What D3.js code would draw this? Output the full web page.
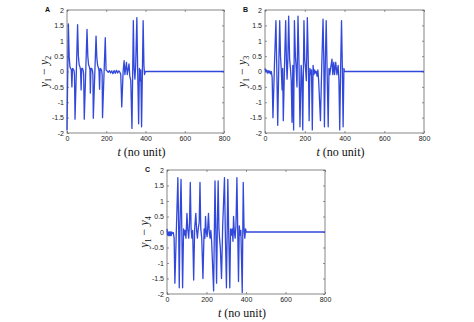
<!DOCTYPE html>
<html><head><meta charset="utf-8">
<script src="https://cdn.jsdelivr.net/npm/d3@7"></script>
<style>body{margin:0;background:#fff}svg{display:block}</style>
</head><body>
<script>
// ---- data ----
const xTicks = [0, 200, 400, 600, 800];
const yTicks = [-2, -1.5, -1, -0.5, 0, 0.5, 1, 1.5, 2];
const panelLetters = ["A", "B", "C"];
const yLabelSubs = ["2", "3", "4"];
const seriesA = [[0,-1.9],[7,1.55],[11,0.5],[15,0.15],[19,0.1],[22,0.05],[25,-0.5],[28,0.1],[32,0.08],[36,0.02],[38,-0.1],[41,-1.55],[54,1.52],[58,0.5],[62,0.22],[66,0.15],[69,0.05],[72,-0.6],[75,0.1],[79,0.1],[83,0.02],[85,-0.1],[88,-1.55],[102,1.37],[106,0.5],[110,0.22],[114,0.15],[117,0.05],[119,-0.7],[122,0.1],[126,0.1],[130,0.02],[132,-0.1],[134,-1.52],[148,1.15],[152,0.45],[156,0.2],[160,0.12],[163,0.03],[166,-0.58],[169,0.1],[173,0.08],[177,0.02],[179,-0.1],[181,-1.5],[195,1.1],[199,0.05],[204,0.02],[210,-0.03],[216,0.03],[222,-0.05],[228,0.02],[234,-0.07],[240,0.03],[246,-0.06],[252,0.04],[258,-0.05],[264,0.02],[270,-0.03],[274,-0.1],[279,-1.15],[286,0.0],[291,0.35],[295,-0.1],[299,0.1],[303,0.3],[307,-0.1],[311,0.05],[316,0.25],[320,-0.15],[325,-0.3],[331,-1.85],[338,1.65],[342,0.1],[346,-0.25],[350,0.2],[356,1.75],[360,0.1],[365,-1.7],[369,0.1],[373,-0.3],[376,0.05],[380,-1.8],[388,1.65],[392,0.2],[395,-0.1],[399,0],[800,0]];
const seriesB = [[0,0.1],[4,0],[8,0.05],[12,-0.05],[16,0.03],[20,-0.05],[24,0.02],[28,-0.08],[32,0],[36,-0.2],[40,-1.5],[48,0.3],[55,1.65],[59,0.2],[64,-1.75],[70,0.4],[74,1.65],[78,0.5],[82,0.05],[86,-0.6],[89,0.1],[92,-1.6],[99,0.4],[104,1.65],[108,0.3],[111,-0.25],[115,0.4],[119,1.8],[124,0.4],[128,0.1],[132,-0.3],[136,-1.65],[140,0.2],[144,-1.9],[148,1.65],[153,0.5],[157,0.1],[161,-0.5],[166,1.8],[171,0.3],[176,-1.8],[182,0.2],[186,-0.2],[190,-1.9],[196,1.65],[200,0.4],[204,0.1],[208,-0.3],[213,1.75],[218,0.3],[222,-1.6],[226,0.1],[230,-0.1],[234,0.05],[238,-1.9],[242,0.2],[246,-0.1],[250,0.05],[254,-0.05],[258,0],[262,-0.15],[266,0.05],[270,-0.3],[279,-1.6],[286,0.3],[292,1.7],[296,0.3],[299,-1.8],[304,0.5],[308,1.65],[312,0.2],[318,-1.8],[322,0.1],[326,-0.1],[330,0.1],[337,0.4],[341,-0.1],[346,0.3],[350,-0.1],[356,0.3],[362,-0.1],[368,0.2],[372,-0.3],[376,-1.9],[381,0.3],[385,1.65],[389,0.2],[393,-1.8],[397,0.1],[400,0],[800,0]];
const seriesC = [[0,0.1],[3,-0.1],[6,0],[9,-0.12],[12,0],[15,-0.12],[18,0],[21,-0.12],[24,0],[28,-0.05],[32,-0.02],[36,-0.2],[40,-1.65],[48,0.2],[55,1.75],[59,0.2],[62,-1.8],[66,0.3],[71,1.7],[75,0.1],[79,-1.8],[84,0.1],[88,-0.1],[92,0.05],[96,-0.2],[101,0.6],[105,0.1],[110,-0.2],[114,0.3],[118,1.6],[122,0.1],[126,-0.2],[130,0.05],[135,-1.55],[140,0.1],[146,0.6],[150,0.05],[154,-0.2],[158,0.1],[163,0.3],[167,1.6],[171,0.1],[176,-0.2],[182,-1.5],[188,0.1],[192,-0.2],[195,0.5],[199,0],[203,-0.15],[206,0.1],[210,0.6],[214,0],[218,-0.2],[222,0.05],[226,-0.3],[236,-1.9],[243,1.65],[247,0.1],[251,-1.65],[255,0.2],[259,1.65],[263,0.1],[266,-0.2],[270,-0.5],[276,-1.5],[282,0.2],[291,1.75],[295,0.1],[301,-1.8],[305,0.2],[308,1.7],[312,0.1],[318,-1.8],[322,0.1],[326,-0.1],[330,0.1],[334,-0.3],[337,0.5],[341,0],[345,-0.2],[349,0.2],[354,1.75],[358,0.1],[362,-1.6],[366,0.2],[370,-0.1],[374,0.05],[381,-1.95],[386,1.6],[390,0.1],[394,-0.2],[398,0.1],[401,0],[800,0]];
const panels = [
  {data: seriesA, letter: panelLetters[0], sub: yLabelSubs[0], left: 67, right: 224, top: 10, bottom: 133},
  {data: seriesB, letter: panelLetters[1], sub: yLabelSubs[1], left: 265, right: 424, top: 10, bottom: 133},
  {data: seriesC, letter: panelLetters[2], sub: yLabelSubs[2], left: 167, right: 325, top: 170, bottom: 294}
];

const svg = d3.select("body").append("svg").attr("width", 474).attr("height", 322);
const lineColor = "#3148da";

panels.forEach(p => {
  const x = d3.scaleLinear().domain([0, 800]).range([p.left, p.right]);
  const y = d3.scaleLinear().domain([-2, 2]).range([p.bottom, p.top]);
  const g = svg.append("g");

  g.append("rect").attr("x", p.left).attr("y", p.top)
    .attr("width", p.right - p.left).attr("height", p.bottom - p.top)
    .attr("fill", "#fff").attr("stroke", "#666").attr("stroke-width", 0.8);

  const ax = g.append("g").attr("transform", `translate(0,${p.bottom})`)
    .call(d3.axisBottom(x).tickValues(xTicks).tickSize(-2).tickPadding(3).tickFormat(d3.format("d")));
  const axTop = g.append("g").attr("transform", `translate(0,${p.top})`)
    .call(d3.axisTop(x).tickValues(xTicks).tickSize(-2).tickFormat(""));
  const ay = g.append("g").attr("transform", `translate(${p.left},0)`)
    .call(d3.axisLeft(y).tickValues(yTicks).tickSize(-2).tickPadding(3).tickFormat(d => String(d)));
  const ayR = g.append("g").attr("transform", `translate(${p.right},0)`)
    .call(d3.axisRight(y).tickValues(yTicks).tickSize(-2).tickFormat(""));
  [ax, axTop, ay, ayR].forEach(a => {
    a.select(".domain").remove();
    a.selectAll(".tick line").attr("stroke", "#666").attr("stroke-width", 0.7);
    a.selectAll(".tick text").attr("font-family", "Liberation Sans, Arial, sans-serif")
      .attr("font-size", 7).attr("fill", "#222");
  });

  g.append("path").datum(p.data)
    .attr("d", d3.line().x(d => x(d[0])).y(d => y(d[1])))
    .attr("fill", "none").attr("stroke", lineColor).attr("stroke-width", 1.3)
    .attr("stroke-linejoin", "round");

  const xl = g.append("text")
    .attr("x", (p.left + p.right) / 2 - 4).attr("y", p.bottom + 23)
    .attr("text-anchor", "middle")
    .attr("font-family", "Liberation Serif, Times New Roman, serif")
    .attr("font-size", 12).attr("fill", "#111");
  xl.append("tspan").attr("font-style", "italic").text("t");
  xl.append("tspan").text(" (no unit)");

  const cy = (p.top + p.bottom) / 2;
  const yl = g.append("text")
    .attr("transform", `translate(${p.left - 19},${cy}) rotate(-90)`)
    .attr("text-anchor", "middle")
    .attr("font-family", "Liberation Serif, Times New Roman, serif")
    .attr("font-size", 12).attr("fill", "#111");
  yl.append("tspan").attr("font-style", "italic").text("y");
  yl.append("tspan").attr("font-size", 8).attr("dy", 3).text("1");
  yl.append("tspan").attr("dy", -3).text(" \u2212 ");
  yl.append("tspan").attr("font-style", "italic").text("y");
  yl.append("tspan").attr("font-size", 8).attr("dy", 3).text(p.sub);

  g.append("text").attr("x", p.left - 22).attr("y", p.top + 2)
    .attr("font-family", "Liberation Sans, Arial, sans-serif").attr("font-weight", "bold")
    .attr("font-size", 7).attr("fill", "#111").text(p.letter);
});
</script>
</body></html>
